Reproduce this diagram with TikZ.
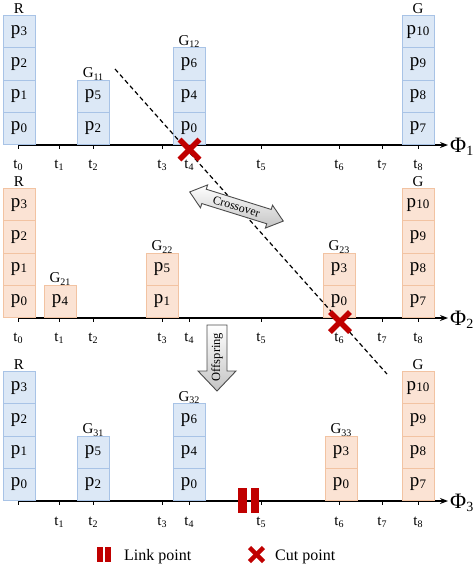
\documentclass[tikz,border=0pt]{standalone}
\usepackage{fontspec}
\setmainfont{Liberation Serif}
\usetikzlibrary{arrows.meta,calc}
\definecolor{bfill}{HTML}{DCE8F6}
\definecolor{bdraw}{HTML}{A8C3E6}
\definecolor{ofill}{HTML}{FBE3D4}
\definecolor{odraw}{HTML}{F2C3A2}
\definecolor{cutred}{HTML}{C00000}
\definecolor{arrfill}{HTML}{E6E6E6}
\newcommand\pb[1]{p\kern0.2pt\raisebox{-1.2pt}{\fontsize{13}{13}\selectfont #1}}
\newcommand\Gsub[1]{G\raisebox{-2.5pt}{\fontsize{10}{10}\selectfont #1}}
\newcommand\Tsub[1]{t\raisebox{-2.5pt}{\fontsize{10}{10}\selectfont #1}}
\newcommand\Psub[1]{\fontsize{22}{22}\selectfont\char"03A6\raisebox{-3pt}{\fontsize{14}{14}\selectfont #1}}
\newcommand\colm[7]{%
  \foreach \lab [count=\i from 0] in {#6} {
    \node[#4] (#1-\i) at (#2,{#3-\i*32.25}) {\pb{\lab}};
  }
  \node[glab] (#1-l) at (#2,{#3-#5*32.25-3}) {#7};
}
\tikzset{
  blk/.style={minimum width=32pt, minimum height=32.25pt, inner sep=0pt, anchor=south,
    line width=0.8pt, font=\fontsize{19}{19}\selectfont},
  bblk/.style={blk, fill=bfill, draw=bdraw},
  oblk/.style={blk, fill=ofill, draw=odraw},
  glab/.style={anchor=base, inner sep=0pt, font=\fontsize{15}{15}\selectfont},
  tlab/.style={anchor=base, inner sep=0pt, font=\fontsize{15}{15}\selectfont},
  axisline/.style={line width=1.2pt, -{Stealth[length=8pt,width=6pt]}},
  tick/.style={line width=1pt},
  cutx/.style={cutred, line width=5.5pt},
  arrowbox/.style={draw=black!70, top color=white, bottom color=arrfill!85!black, line width=0.9pt, line join=miter},
  dashline/.style={line width=1.2pt, dash pattern=on 4.5pt off 3pt},
  legtext/.style={anchor=base west, inner sep=0pt, font=\fontsize{16}{16}\selectfont},
}
\begin{document}
\begin{tikzpicture}[x=1pt, y=-1pt]
\useasboundingbox (0,0) rectangle (474,566);

% ---------- axes ----------
\foreach \r/\ay in {1/145, 2/318, 3/501} {
  \coordinate (a\r s) at (18,\ay);
  \coordinate (a\r e) at (448,\ay);
  \draw[axisline] (a\r s) -- (a\r e);
  \draw[tick] (18,\ay-4) -- (18,\ay+4);
  \foreach \tx in {59,93,162,189,261,339,382,418} {
    \draw[tick] (\tx,\ay) -- (\tx,\ay+3.5);
  }
  \node[anchor=base west, inner sep=0pt] (phi\r) at (450,\ay+7.5) {\Psub{\r}};
}

% tick labels
\foreach \tx [count=\k from 0] in {18,59,93,162,189,261,339,382,418} {
  \node[tlab] (tA\k) at (\tx,168) {\Tsub{\k}};
  \node[tlab] (tB\k) at (\tx,341) {\Tsub{\k}};
}
\foreach \tx [count=\k from 1] in {59,93,162,189,261,339,382,418} {
  \node[tlab] (tC\k) at (\tx,525) {\Tsub{\k}};
}

% ---------- row 1 ----------
\colm{r1R}{19}{145}{bblk}{4}{0,1,2,3}{R}
\colm{r1a}{93}{145}{bblk}{2}{2,5}{\Gsub{11}}
\colm{r1b}{189}{145}{bblk}{3}{0,4,6}{\Gsub{12}}
\colm{r1G}{418}{145}{bblk}{4}{7,8,9,10}{G}

% ---------- row 2 ----------
\colm{r2R}{19}{318}{oblk}{4}{0,1,2,3}{R}
\colm{r2a}{60}{318}{oblk}{1}{4}{\Gsub{21}}
\colm{r2b}{162}{318}{oblk}{2}{1,5}{\Gsub{22}}
\colm{r2c}{339}{318}{oblk}{2}{0,3}{\Gsub{23}}
\colm{r2G}{418}{318}{oblk}{4}{7,8,9,10}{G}

% ---------- row 3 ----------
\colm{r3R}{19}{501}{bblk}{4}{0,1,2,3}{R}
\colm{r3a}{93}{501}{bblk}{2}{2,5}{\Gsub{31}}
\colm{r3b}{189}{501}{bblk}{3}{0,4,6}{\Gsub{32}}
\colm{r3c}{341}{501}{oblk}{2}{0,3}{\Gsub{33}}
\colm{r3G}{418}{501}{oblk}{4}{7,8,9,10}{G}

% ---------- dashed cut line ----------
\coordinate (ds) at (115,69);
\coordinate (de) at (387,374);
\draw[dashline] (ds) -- (de);

% ---------- crossover arrow ----------
\begin{scope}[shift={(236.5,206.5)}, rotate=-17.3]
  \draw[arrowbox] (-49,0) -- (-34,-12) -- (-34,-7.5) -- (34,-7.5) -- (34,-12) -- (49,0)
     -- (34,12) -- (34,7.5) -- (-34,7.5) -- (-34,12) -- cycle;
  \node[rotate=-17.3, inner sep=0pt, font=\fontsize{12}{12}\selectfont] (xover) at (0,0) {Crossover};
\end{scope}

% ---------- offspring arrow ----------
\draw[arrowbox] (207,325) -- (227,325) -- (227,371) -- (236,371) -- (217,391)
   -- (198,371) -- (207,371) -- cycle;
\node[rotate=90, inner sep=0pt, font=\fontsize{12.5}{12.5}\selectfont] (offs) at (217,357) {Offspring};

% ---------- cut points ----------
\foreach \cx/\cy [count=\k] in {189.5/149.5, 340/322} {
  \coordinate (cut\k) at (\cx,\cy);
  \draw[cutx] ($(cut\k)+(-10,-10)$) -- ($(cut\k)+(10,10)$);
  \draw[cutx] ($(cut\k)+(-10,10)$) -- ($(cut\k)+(10,-10)$);
}

% ---------- link point ----------
\fill[cutred] (238,488) rectangle (246.5,513);
\fill[cutred] (250.5,488) rectangle (259,513);

% ---------- legend ----------
\fill[cutred] (97,547) rectangle (103,562);
\fill[cutred] (105,547) rectangle (111,562);
\node[legtext] (lk) at (124,560) {Link point};
\coordinate (lx) at (256.5,554.5);
\draw[cutred, line width=4.5pt] ($(lx)+(-7,-7)$) -- ($(lx)+(7,7)$);
\draw[cutred, line width=4.5pt] ($(lx)+(-7,7)$) -- ($(lx)+(7,-7)$);
\node[legtext] (ct) at (275,560) {Cut point};
\end{tikzpicture}
\end{document}
